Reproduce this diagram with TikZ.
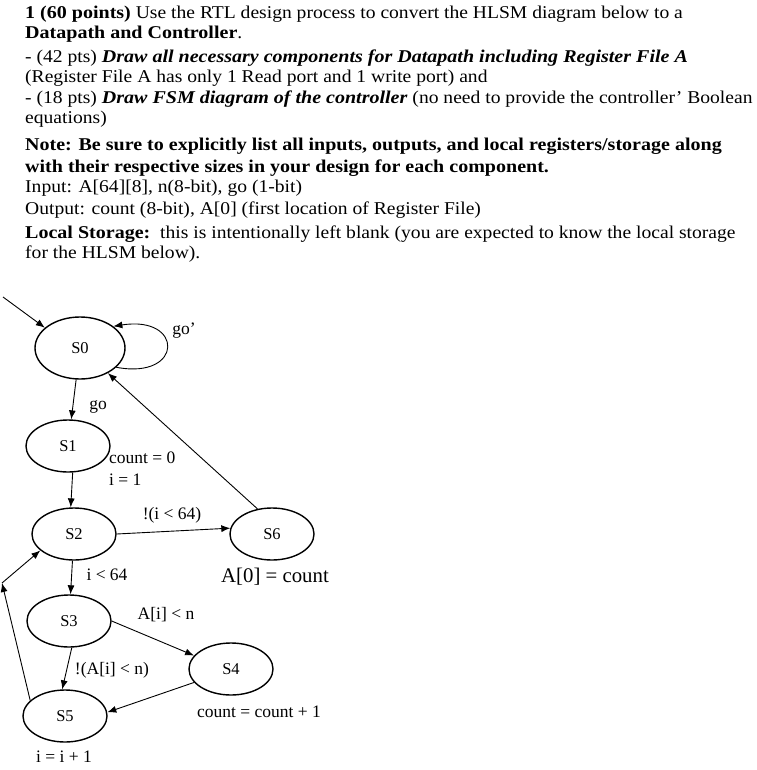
\documentclass[tikz,border=0pt]{standalone}
\usepackage{fontspec}
\setmainfont{Liberation Serif}
\newfontfamily\qfont{Liberation Serif}[FakeStretch=1.088, BoldFeatures={FakeStretch=1.113}, BoldItalicFeatures={FakeStretch=1.113}]
\usepackage{tikz}
\usetikzlibrary{shapes}
\usetikzlibrary{arrows.meta}

\tikzset{
  hlsm/.style={ellipse, draw, line width=1.4pt, minimum width=84pt, minimum height=52pt, inner sep=0pt, font=\fontsize{16.5}{18}\selectfont},
  qline/.style={anchor=base west, inner sep=0pt, font=\qfont\fontsize{18}{20}\selectfont},
  lbl/.style={inner sep=0pt, font=\fontsize{17.5}{20}\selectfont},
  >={Latex[length=9pt,width=7pt]}
}

\begin{document}
\begin{tikzpicture}[x=1pt, y=-1pt]
\useasboundingbox (0,0) rectangle (756,770);

% question text
\node (Q1) at (25,19) [qline] {\textbf{1 (60 points)} Use the RTL design process to convert the HLSM diagram below to a};
\node (Q2) at (25,39) [qline] {\textbf{Datapath and Controller}.};
\node (Q3) at (25,63) [qline] {- (42 pts) \textbf{\textit{Draw all necessary components for Datapath including Register File A}}};
\node (Q4) at (25,83) [qline] {(Register File A has only 1 Read port and 1 write port) and};
\node (Q5) at (25,104) [qline] {- (18 pts) \textbf{\textit{Draw FSM diagram of the controller}} (no need to provide the controller’ Boolean};
\node (Q6) at (25,124) [qline] {equations)};
\node (Q7) at (25,151) [qline] {\textbf{Note: Be sure to explicitly list all inputs, outputs, and local registers/storage along}};
\node (Q8) at (25,172) [qline] {\textbf{with their respective sizes in your design for each component.}};
\node (Q9) at (25,193) [qline] {Input: A[64][8], n(8-bit), go (1-bit)};
\node (Q10) at (25,214) [qline] {Output: count (8-bit), A[0] (first location of Register File)};
\node (Q11) at (25,238) [qline] {\textbf{Local Storage:}\ \ this is intentionally left blank (you are expected to know the local storage};
\node (Q12) at (25,258) [qline] {for the HLSM below).};

% states
\node (S0) at (80,348) [hlsm, minimum width=90pt, minimum height=62pt] {S0};
\node (S1) at (68,446) [hlsm] {S1};
\node (S2) at (74,534) [hlsm] {S2};
\node (S3) at (69,621) [hlsm] {S3};
\node (S4) at (231,669) [hlsm] {S4};
\node (S5) at (65,716) [hlsm] {S5};
\node (S6) at (272,534) [hlsm] {S6};

\coordinate (init) at (3,297);
\coordinate (back) at (2,583);

% transitions
\draw [->, line width=0.9pt] (init) -- (S0.150);
\draw [->, line width=0.9pt] (S0.-28) .. controls (184,380) and (184,315) .. (S0.33);
\draw [->, line width=0.9pt] (S0) -- (S1);
\draw [->, line width=0.9pt] (S1.-80) -- (S2.97);
\draw [->, line width=0.9pt] (S2.east) -- (S6.172);
\draw [->, line width=0.9pt] (S6.120) -- (S0.-42);
\draw [->, line width=0.9pt] (S2) -- (S3);
\draw [->, line width=0.9pt] (S3.east) -- (S4.160);
\draw [->, line width=0.9pt] (S3.-84) -- (S5.96);
\draw [->, line width=0.9pt] (S4.200) -- (S5.5);
\draw [->, line width=0.9pt] (S5.156) -- (back);
\draw [->, line width=0.9pt] (back) -- (S2.206);

% labels
\node (goN) at (184,331) [lbl] {go’};
\node (go) at (98,407) [lbl] {go};
\node (initS1) at (109,469) [lbl, anchor=west, align=left] {count = 0\\[2pt]i = 1};
\node (notlt) at (172,515) [lbl] {!(i < 64)};
\node (actS6) at (275,577) [lbl, font=\fontsize{20.8}{22}\selectfont] {A[0] = count};
\node (lt) at (107,575) [lbl] {i < 64};
\node (ailt) at (166,615) [lbl] {A[i] < n};
\node (notai) at (112,670) [lbl] {!(A[i] < n)};
\node (actS4) at (259,712) [lbl] {count = count + 1};
\node (actS5) at (64,757) [lbl] {i = i + 1};
\end{tikzpicture}
\end{document}
